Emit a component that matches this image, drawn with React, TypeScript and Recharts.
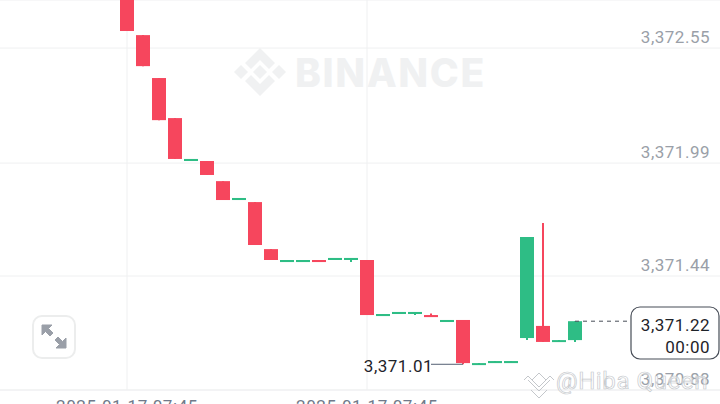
import React from 'react'
import {
  Bar,
  CartesianGrid,
  ComposedChart,
  Line,
  ReferenceDot,
  ReferenceLine,
  XAxis,
  YAxis,
} from 'recharts'

// one slot per candle, the blank slots keep the empty room left and right of the candles
const slots = [
  'a0', 'a1', 'a2', 'a3', 'a4', 'a5', 'a6', 'a7',
  '2025-01-17 07:45', 'c1', 'c2', 'c3', 'c4', 'c5', 'c6', 'c7', 'c8', 'c9', 'c10', 'c11', 'c12', 'c13', 'c14',
  '2025-01-17 07:45 ', 'c16', 'c17', 'c18', 'c19', 'c20', 'c21', 'c22', 'c23', 'c24', 'c25', 'c26', 'c27', 'c28',
  'z0', 'z1', 'z2', 'z3', 'z4', 'z5', 'z6', 'z7', 'z8',
]
const firstCandleSlot = 8

const opens = [
  3372.86, 3372.613, 3372.404, 3372.209, 3372.0, 3372.0, 3371.902, 3371.81, 3371.8, 3371.571, 3371.508, 3371.508,
  3371.518, 3371.518, 3371.518, 3371.518, 3371.245, 3371.255, 3371.255, 3371.25, 3371.216, 3371.226, 3371.007,
  3371.016, 3371.016, 3371.138, 3371.197, 3371.119, 3371.128,
]
const closes = [
  3372.633, 3372.462, 3372.199, 3372.01, 3372.01, 3371.932, 3371.81, 3371.82, 3371.591, 3371.518, 3371.518, 3371.518,
  3371.508, 3371.528, 3371.528, 3371.25, 3371.255, 3371.265, 3371.265, 3371.24, 3371.226, 3371.016, 3371.016,
  3371.026, 3371.026, 3371.63, 3371.119, 3371.128, 3371.22,
]
const highs = [
  3372.86, 3372.613, 3372.404, 3372.209, 3372.01, 3372.0, 3371.902, 3371.82, 3371.8, 3371.571, 3371.518, 3371.518,
  3371.518, 3371.528, 3371.528, 3371.518, 3371.255, 3371.265, 3371.265, 3371.258, 3371.226, 3371.226, 3371.016,
  3371.026, 3371.026, 3371.63, 3371.698, 3371.128, 3371.22,
]
const lows = [
  3372.633, 3372.462, 3372.199, 3372.01, 3372.0, 3371.932, 3371.81, 3371.81, 3371.591, 3371.518, 3371.508, 3371.508,
  3371.508, 3371.518, 3371.508, 3371.25, 3371.245, 3371.255, 3371.25, 3371.24, 3371.216, 3371.01, 3371.007,
  3371.016, 3371.016, 3371.128, 3371.119, 3371.119, 3371.119,
]

const priceTicks = [3370.885, 3371.44, 3371.99, 3372.55]
const timeTicks = ['2025-01-17 07:45', '2025-01-17 07:45 ']
const lastPrice = 3371.22
const lowPrice = 3371.01

const UP = '#2ebd85'
const DOWN = '#f6465d'

const data = slots.map((slot, i) => {
  const c = i - firstCandleSlot
  if (c < 0 || c >= opens.length) {
    return { slot, last: c >= opens.length - 1 ? lastPrice : undefined }
  }
  return {
    slot,
    open: opens[c],
    close: closes[c],
    high: highs[c],
    low: lows[c],
    range: [lows[c], highs[c]],
    last: c === opens.length - 1 ? lastPrice : undefined,
  }
})

function Candle(props: any) {
  const { x, y, width, height, payload } = props
  if (payload.open === undefined) return null
  const { open, close, high, low } = payload
  const perUnit = high === low ? 0 : height / (high - low)
  const toY = (price: number) => y + (high - price) * perUnit
  const color = close >= open ? UP : DOWN
  const top = toY(Math.max(open, close))
  const bottom = toY(Math.min(open, close))
  const mid = x + width / 2
  return (
    <g>
      <line x1={mid} x2={mid} y1={y} y2={y + height} stroke={color} strokeWidth={2} />
      <rect x={x} y={top} width={width} height={Math.max(bottom - top, 2)} fill={color} />
    </g>
  )
}

function PriceTick({ y, payload }: any) {
  const label = (Math.floor(payload.value * 100) / 100).toLocaleString('en-US', { minimumFractionDigits: 2 })
  return (
    <text x={719} y={y - 5} textAnchor="end" fontFamily="Roboto" fontSize={17} letterSpacing={0.5} fill="#9a9fa8">
      {label}
    </text>
  )
}

function TimeTick({ x, y, payload }: any) {
  return (
    <text x={x} y={y + 14} textAnchor="middle" fontFamily="Roboto" fontSize={17} letterSpacing={0.6} fill="#707a8a">
      {payload.value.trim()}
    </text>
  )
}

function BinanceMark() {
  return (
    <svg width={720} height={404} style={{ position: 'absolute', left: 0, top: 0 }}>
      <g fill="#f0f1f2">
        <path d="M260 48 L275 63 L269 69 L260 60 L251 69 L245 63 Z" />
        <path d="M260 96 L275 81 L269 75 L260 84 L251 75 L245 81 Z" />
        <path d="M260 65 L267 72 L260 79 L253 72 Z" />
        <path d="M241 65 L248 72 L241 79 L234 72 Z" />
        <path d="M279 65 L286 72 L279 79 L272 72 Z" />
      </g>
      <text x={295} y={87} fontFamily="Inter" fontWeight={800} fontSize={39} letterSpacing={1.6} fill="#f0f1f2">
        BINANCE
      </text>
    </svg>
  )
}

function Overlay() {
  return (
    <svg width={720} height={404} style={{ position: 'absolute', left: 0, top: 0, pointerEvents: 'none' }}>
      {/* expand button */}
      <rect x={33} y={316} width={42} height={42} rx={9} fill="#fff" stroke="#eceded" strokeWidth={2} />
      <g fill="#9a9fa8" stroke="#9a9fa8">
        <path d="M42 325 L52 325 L48.5 328.5 L53 333 L50 336 L45.5 331.5 L42 335 Z" />
        <path d="M66 348 L56 348 L59.5 344.5 L55 340 L58 337 L62.5 341.5 L66 338 Z" />
      </g>
      {/* current price tag */}
      <rect x={631} y={307} width={88} height={52} rx={9} fill="#fff" stroke="#474d57" strokeWidth={1.2} />
      <g fontFamily="Roboto" fontSize={17} letterSpacing={0.5} fill="#1e2329" textAnchor="end">
        <text x={710} y={331}>3,371.22</text>
        <text x={710} y={353}>00:00</text>
      </g>
      {/* repost watermark */}
      <g fill="none" stroke="#c4c7cb" strokeWidth={1}>
        <path d="M539 373 L546 380 L539 387 L532 380 Z" />
        <path d="M528 380 L535 387 L539 391 L543 387 L550 380" />
        <path d="M524 380 L528 376 L532 380" />
        <path d="M546 380 L550 376 L554 380" />
        <path d="M531 390 L539 398 L547 390" />
      </g>
      <text
        x={556}
        y={389}
        fontFamily="Roboto"
        fontSize={24}
        letterSpacing={0.6}
        fill="#ffffff"
        fillOpacity={0.55}
        stroke="#c6c9cd"
        strokeWidth={0.7}
      >
        @Hiba Queen
      </text>
    </svg>
  )
}

export default function App() {
  return (
    <div style={{ position: 'absolute', left: 0, top: 0, width: 720, height: 404, overflow: 'hidden', background: 'transparent' }}>
      <BinanceMark />
      <div style={{ position: 'absolute', left: -9, top: 0 }}>
        <ComposedChart width={736} height={404} data={data} margin={{ top: 0, right: 0, bottom: 0, left: 0 }}>
          <CartesianGrid stroke="#eff0f1" strokeWidth={1} />
          <XAxis
            dataKey="slot"
            ticks={timeTicks}
            interval={0}
            height={14}
            tickLine={false}
            axisLine={{ stroke: '#eff0f1' }}
            tick={<TimeTick />}
          />
          <YAxis
            orientation="right"
            mirror
            width={1}
            domain={[3370.885, 3372.784]}
            allowDataOverflow
            ticks={priceTicks}
            interval={0}
            tickLine={false}
            axisLine={false}
            tick={<PriceTick />}
          />
          <Line
            dataKey="last"
            stroke="#474d57"
            strokeWidth={1}
            strokeDasharray="4 4"
            dot={false}
            isAnimationActive={false}
          />
          <Bar dataKey="range" barSize={14} shape={<Candle />} isAnimationActive={false} />
          <ReferenceLine
            segment={[
              { x: slots[firstCandleSlot + 19], y: lowPrice },
              { x: slots[firstCandleSlot + 21], y: lowPrice },
            ]}
            stroke="#707a8a"
            strokeWidth={1.2}
          />
          <ReferenceDot
            x={slots[firstCandleSlot + 19]}
            y={lowPrice}
            r={0}
            fill="none"
            stroke="none"
            label={{
              value: '3,371.01',
              position: 'left',
              offset: -2,
              dy: 2,
              fontFamily: 'Roboto',
              fontSize: 17,
              letterSpacing: 0.5,
              fill: '#1e2329',
            }}
          />
        </ComposedChart>
      </div>
      <Overlay />
    </div>
  )
}
